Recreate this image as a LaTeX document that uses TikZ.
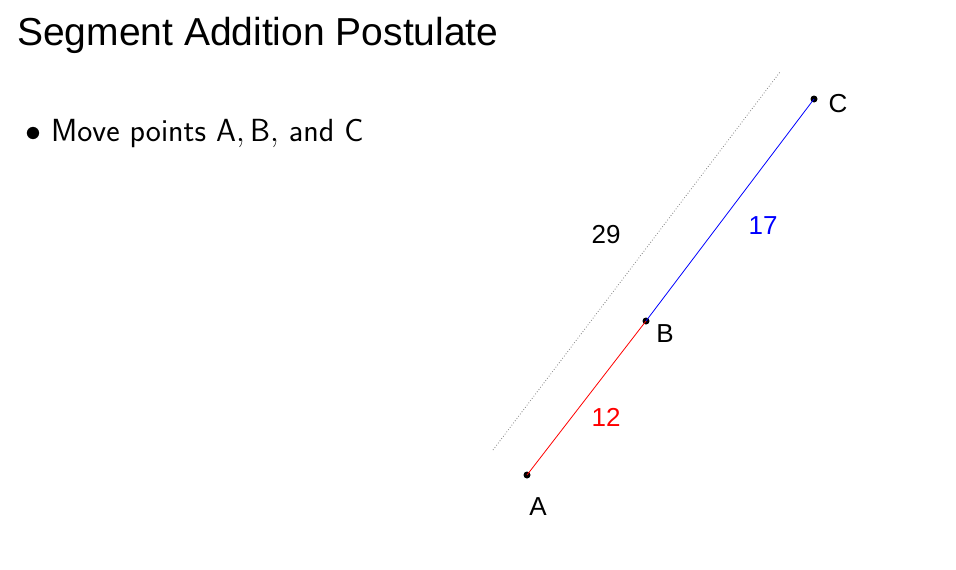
\documentclass[tikz,border=0pt]{standalone}
\usepackage{fix-cm}
\usepackage{fontspec}
\newfontfamily\arial{Liberation Sans}
\usepackage{tikz}

\tikzset{
  pt/.style={circle,fill=black,inner sep=0pt,minimum size=7pt},
  lbl/.style={font=\arial\fontsize{26}{30}\selectfont,inner sep=0pt}
}

\begin{document}
\begin{tikzpicture}[x=1pt,y=-1pt]
\useasboundingbox (0,0) rectangle (956,570);

% heading and bullet
\node[anchor=west,inner sep=0pt,font=\arial\fontsize{39}{44}\selectfont] (title) at (17,35) {Segment Addition Postulate};
\node[anchor=west,inner sep=0pt,font=\sffamily\fontsize{32}{36}\selectfont] (move) at (25,133) {$\bullet$ Move points $\mathsf{A}, \mathsf{B},$ and $\mathsf{C}$};

% points
\node[pt] (A) at (527,475) {};
\node[pt] (B) at (646,321) {};
\node[pt] (C) at (814,99) {};
\coordinate (P) at (493,450);
\coordinate (Q) at (780,72);

% segments
\draw[gray,dotted,line width=0.8pt] (P) -- (Q);
\draw[red,line width=0.8pt] (A.center) -- (B.center);
\draw[blue,line width=0.8pt] (B.center) -- (C.center);

% labels
\node[lbl] (la) at (538,507) {A};
\node[lbl] (lb) at (665,334) {B};
\node[lbl] (lc) at (838,104) {C};
\node[lbl] (total) at (606,235) {29};
\node[lbl,text=blue] (bc) at (763,226) {17};
\node[lbl,text=red] (ab) at (606,417) {12};
\end{tikzpicture}
\end{document}
